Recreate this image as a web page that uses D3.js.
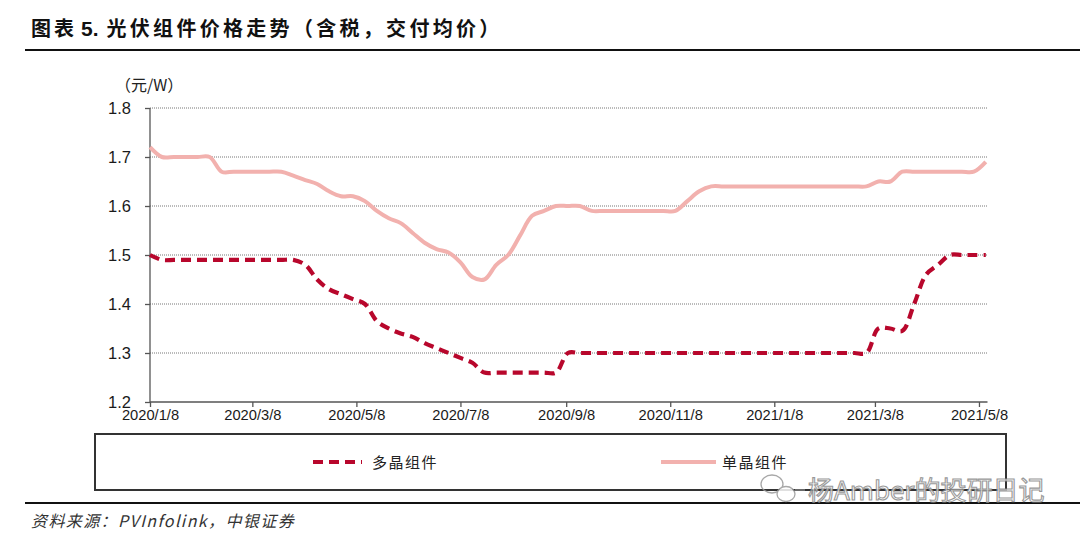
<!DOCTYPE html>
<html><head><meta charset="utf-8">
<script src="https://cdn.jsdelivr.net/npm/d3@7"></script>
<style>
html,body{margin:0;padding:0;background:#fff;}
svg{display:block;}
</style></head>
<body>
<svg id="c" width="1080" height="537"></svg>
<script>
const dates = ["2020-01-08","2020-01-15","2020-01-22","2020-01-29","2020-02-05","2020-02-12","2020-02-19","2020-02-26",
"2020-03-04","2020-03-11","2020-03-18","2020-03-25","2020-04-01","2020-04-08","2020-04-15","2020-04-22","2020-04-29",
"2020-05-06","2020-05-13","2020-05-20","2020-05-27","2020-06-03","2020-06-10","2020-06-17","2020-06-24","2020-07-01",
"2020-07-08","2020-07-15","2020-07-22","2020-07-29","2020-08-05","2020-08-12","2020-08-19","2020-08-26","2020-09-02",
"2020-09-09","2020-09-16","2020-09-23","2020-09-30","2020-10-07","2020-10-14","2020-10-21","2020-10-28","2020-11-04",
"2020-11-11","2020-11-18","2020-11-25","2020-12-02","2020-12-09","2020-12-16","2020-12-23","2020-12-30","2021-01-06",
"2021-01-13","2021-01-20","2021-01-27","2021-02-03","2021-02-10","2021-02-17","2021-02-24","2021-03-03","2021-03-10",
"2021-03-17","2021-03-24","2021-03-31","2021-04-07","2021-04-14","2021-04-21","2021-04-28","2021-05-05","2021-05-12"];

const mono = [1.72,1.70,1.70,1.70,1.70,1.70,1.67,1.67,1.67,1.67,1.67,1.67,1.662,1.653,1.645,1.63,1.62,
1.62,1.61,1.59,1.575,1.565,1.545,1.525,1.512,1.505,1.485,1.455,1.45,1.48,1.50,1.54,1.58,1.59,1.60,
1.60,1.60,1.59,1.59,1.59,1.59,1.59,1.59,1.59,1.59,1.61,1.63,1.64,1.64,1.64,1.64,1.64,1.64,
1.64,1.64,1.64,1.64,1.64,1.64,1.64,1.64,1.65,1.65,1.67,1.67,1.67,1.67,1.67,1.67,1.67,1.69];

const poly = [1.50,1.49,1.49,1.49,1.49,1.49,1.49,1.49,1.49,1.49,1.49,1.49,1.49,1.48,1.45,1.43,1.42,
1.41,1.40,1.365,1.35,1.34,1.333,1.32,1.31,1.30,1.29,1.28,1.26,1.26,1.26,1.26,1.26,1.26,1.26,
1.30,1.30,1.30,1.30,1.30,1.30,1.30,1.30,1.30,1.30,1.30,1.30,1.30,1.30,1.30,1.30,1.30,1.30,
1.30,1.30,1.30,1.30,1.30,1.30,1.30,1.30,1.35,1.35,1.345,1.40,1.46,1.48,1.50,1.50,1.50,1.50];

const xTickLabels = ["2020/1/8","2020/3/8","2020/5/8","2020/7/8","2020/9/8","2020/11/8","2021/1/8","2021/3/8","2021/5/8"];
const yTicks = [1.2,1.3,1.4,1.5,1.6,1.7,1.8];
const seriesNames = ["多晶组件","单晶组件"];
const titleA = "图表";
const titleB = "5.";
const titleC = "光伏组件价格走势（含税，交付均价）";
const unitLabel = "（元/W）";
const source = "资料来源：PVInfolink，中银证券";
const watermark = "杨Amber的投研日记";

const svg = d3.select("#c");
const parseD = d3.timeParse("%Y-%m-%d");
const parseT = d3.timeParse("%Y/%m/%d");
const pts = dates.map(parseD);

const x = d3.scaleTime().domain([parseD("2020-01-08"), parseD("2021-05-13")]).range([150, 987.5]);
const y = d3.scaleLinear().domain([1.2, 1.8]).range([402, 108]);

// title
const tt = svg.append("text").attr("x", 31).attr("y", 36)
  .attr("font-family", "'Noto Sans CJK SC', sans-serif").attr("font-weight", "bold")
  .attr("font-size", 20).attr("fill", "#111");
tt.append("tspan").text(titleA).attr("letter-spacing", 3);
tt.append("tspan").text(titleB).attr("dx", 4).attr("font-family", "'Liberation Sans', Arial, sans-serif").attr("font-size", 21);
tt.append("tspan").text(titleC).attr("dx", 8).attr("letter-spacing", 3.3);
svg.append("line").attr("x1", 25).attr("x2", 1080).attr("y1", 50).attr("y2", 50)
  .attr("stroke", "#111").attr("stroke-width", 2);

// gridlines
svg.append("g").selectAll("line").data(yTicks.filter(v => v > 1.2)).join("line")
  .attr("x1", x.range()[0]).attr("x2", x.range()[1])
  .attr("y1", d => y(d)).attr("y2", d => y(d))
  .attr("stroke", "#777").attr("stroke-width", 1).attr("stroke-dasharray", "1,1");

// axes
const yAxis = d3.axisLeft(y).tickValues(yTicks).tickFormat(d3.format(".1f")).tickSize(5).tickPadding(14);
const gy = svg.append("g").attr("transform", "translate(150,0)").call(yAxis);
const xAxis = d3.axisBottom(x).tickValues(xTickLabels.map(parseT)).tickFormat(d3.timeFormat("%Y/%-m/%-d")).tickSize(5).tickPadding(3);
const gx = svg.append("g").attr("transform", "translate(0,402)").call(xAxis);
[gx, gy].forEach(g => {
  g.select(".domain").attr("stroke", "#555").attr("stroke-width", 1.3);
  g.selectAll(".tick line").attr("stroke", "#555").attr("stroke-width", 1.3);
  g.selectAll("text").attr("font-family", "'Liberation Sans', Arial, sans-serif").attr("font-size", 14.7).attr("fill", "#1a1a1a");
});
gy.selectAll("text").attr("font-size", 16.5);
gx.select(".domain").attr("d", `M${x.range()[0]},0H${x.range()[1]}`);
gy.select(".domain").attr("d", `M0,${y.range()[0]}V${y.range()[1]}`);

svg.append("text").attr("x", 115).attr("y", 91).text(unitLabel)
  .attr("font-family", "'Noto Sans CJK SC', sans-serif").attr("font-size", 16).attr("fill", "#222");

// lines
const line = d3.line().x((d, i) => x(pts[i])).y(d => y(d)).curve(d3.curveCatmullRom.alpha(0.5));
svg.append("path").attr("d", line(mono)).attr("fill", "none").attr("stroke", "#f2b1ae").attr("stroke-width", 4).attr("stroke-linejoin", "round");
svg.append("path").attr("d", line(poly)).attr("fill", "none").attr("stroke", "#b8072c").attr("stroke-width", 4.2).attr("stroke-dasharray", "10,6");

// legend box
svg.append("rect").attr("x", 95).attr("y", 434).attr("width", 911).attr("height", 56)
  .attr("fill", "none").attr("stroke", "#333").attr("stroke-width", 2);
const lg = [{name: seriesNames[0], x1: 313, x2: 362, tx: 372, color: "#b8072c", dash: "10,6"},
            {name: seriesNames[1], x1: 661, x2: 716, tx: 722, color: "#f2b1ae", dash: null}];
lg.forEach(d => {
  svg.append("line").attr("x1", d.x1).attr("x2", d.x2).attr("y1", 462).attr("y2", 462)
    .attr("stroke", d.color).attr("stroke-width", 4).attr("stroke-dasharray", d.dash);
  svg.append("text").attr("x", d.tx).attr("y", 468).text(d.name)
    .attr("font-family", "'Noto Sans CJK SC', sans-serif").attr("font-size", 15).attr("letter-spacing", 1.5).attr("fill", "#222");
});

// bottom rule and source
svg.append("line").attr("x1", 25).attr("x2", 1080).attr("y1", 503).attr("y2", 503)
  .attr("stroke", "#111").attr("stroke-width", 2);
svg.append("text").attr("x", 31).attr("y", 527).text(source)
  .attr("font-family", "'Noto Sans CJK SC', sans-serif").attr("font-size", 16).attr("font-style", "italic")
  .attr("letter-spacing", 1.4).attr("fill", "#333");

// watermark
const wm = svg.append("g").attr("opacity", 0.85);
wm.append("ellipse").attr("cx", 772).attr("cy", 484).attr("rx", 11).attr("ry", 9).attr("fill", "none").attr("stroke", "#999").attr("stroke-width", 1.3);
wm.append("ellipse").attr("cx", 786).attr("cy", 494).attr("rx", 9).attr("ry", 7.5).attr("fill", "#fff").attr("stroke", "#999").attr("stroke-width", 1.3);
wm.append("line").attr("x1", 795).attr("x2", 805).attr("y1", 490).attr("y2", 490).attr("stroke", "#999").attr("stroke-width", 1.3);
wm.append("text").attr("x", 808).attr("y", 500).text(watermark)
  .attr("font-family", "'Noto Sans CJK SC', sans-serif").attr("font-size", 26)
  .attr("fill", "#fff").attr("stroke", "#888").attr("stroke-width", 1.1);
</script>
</body></html>
